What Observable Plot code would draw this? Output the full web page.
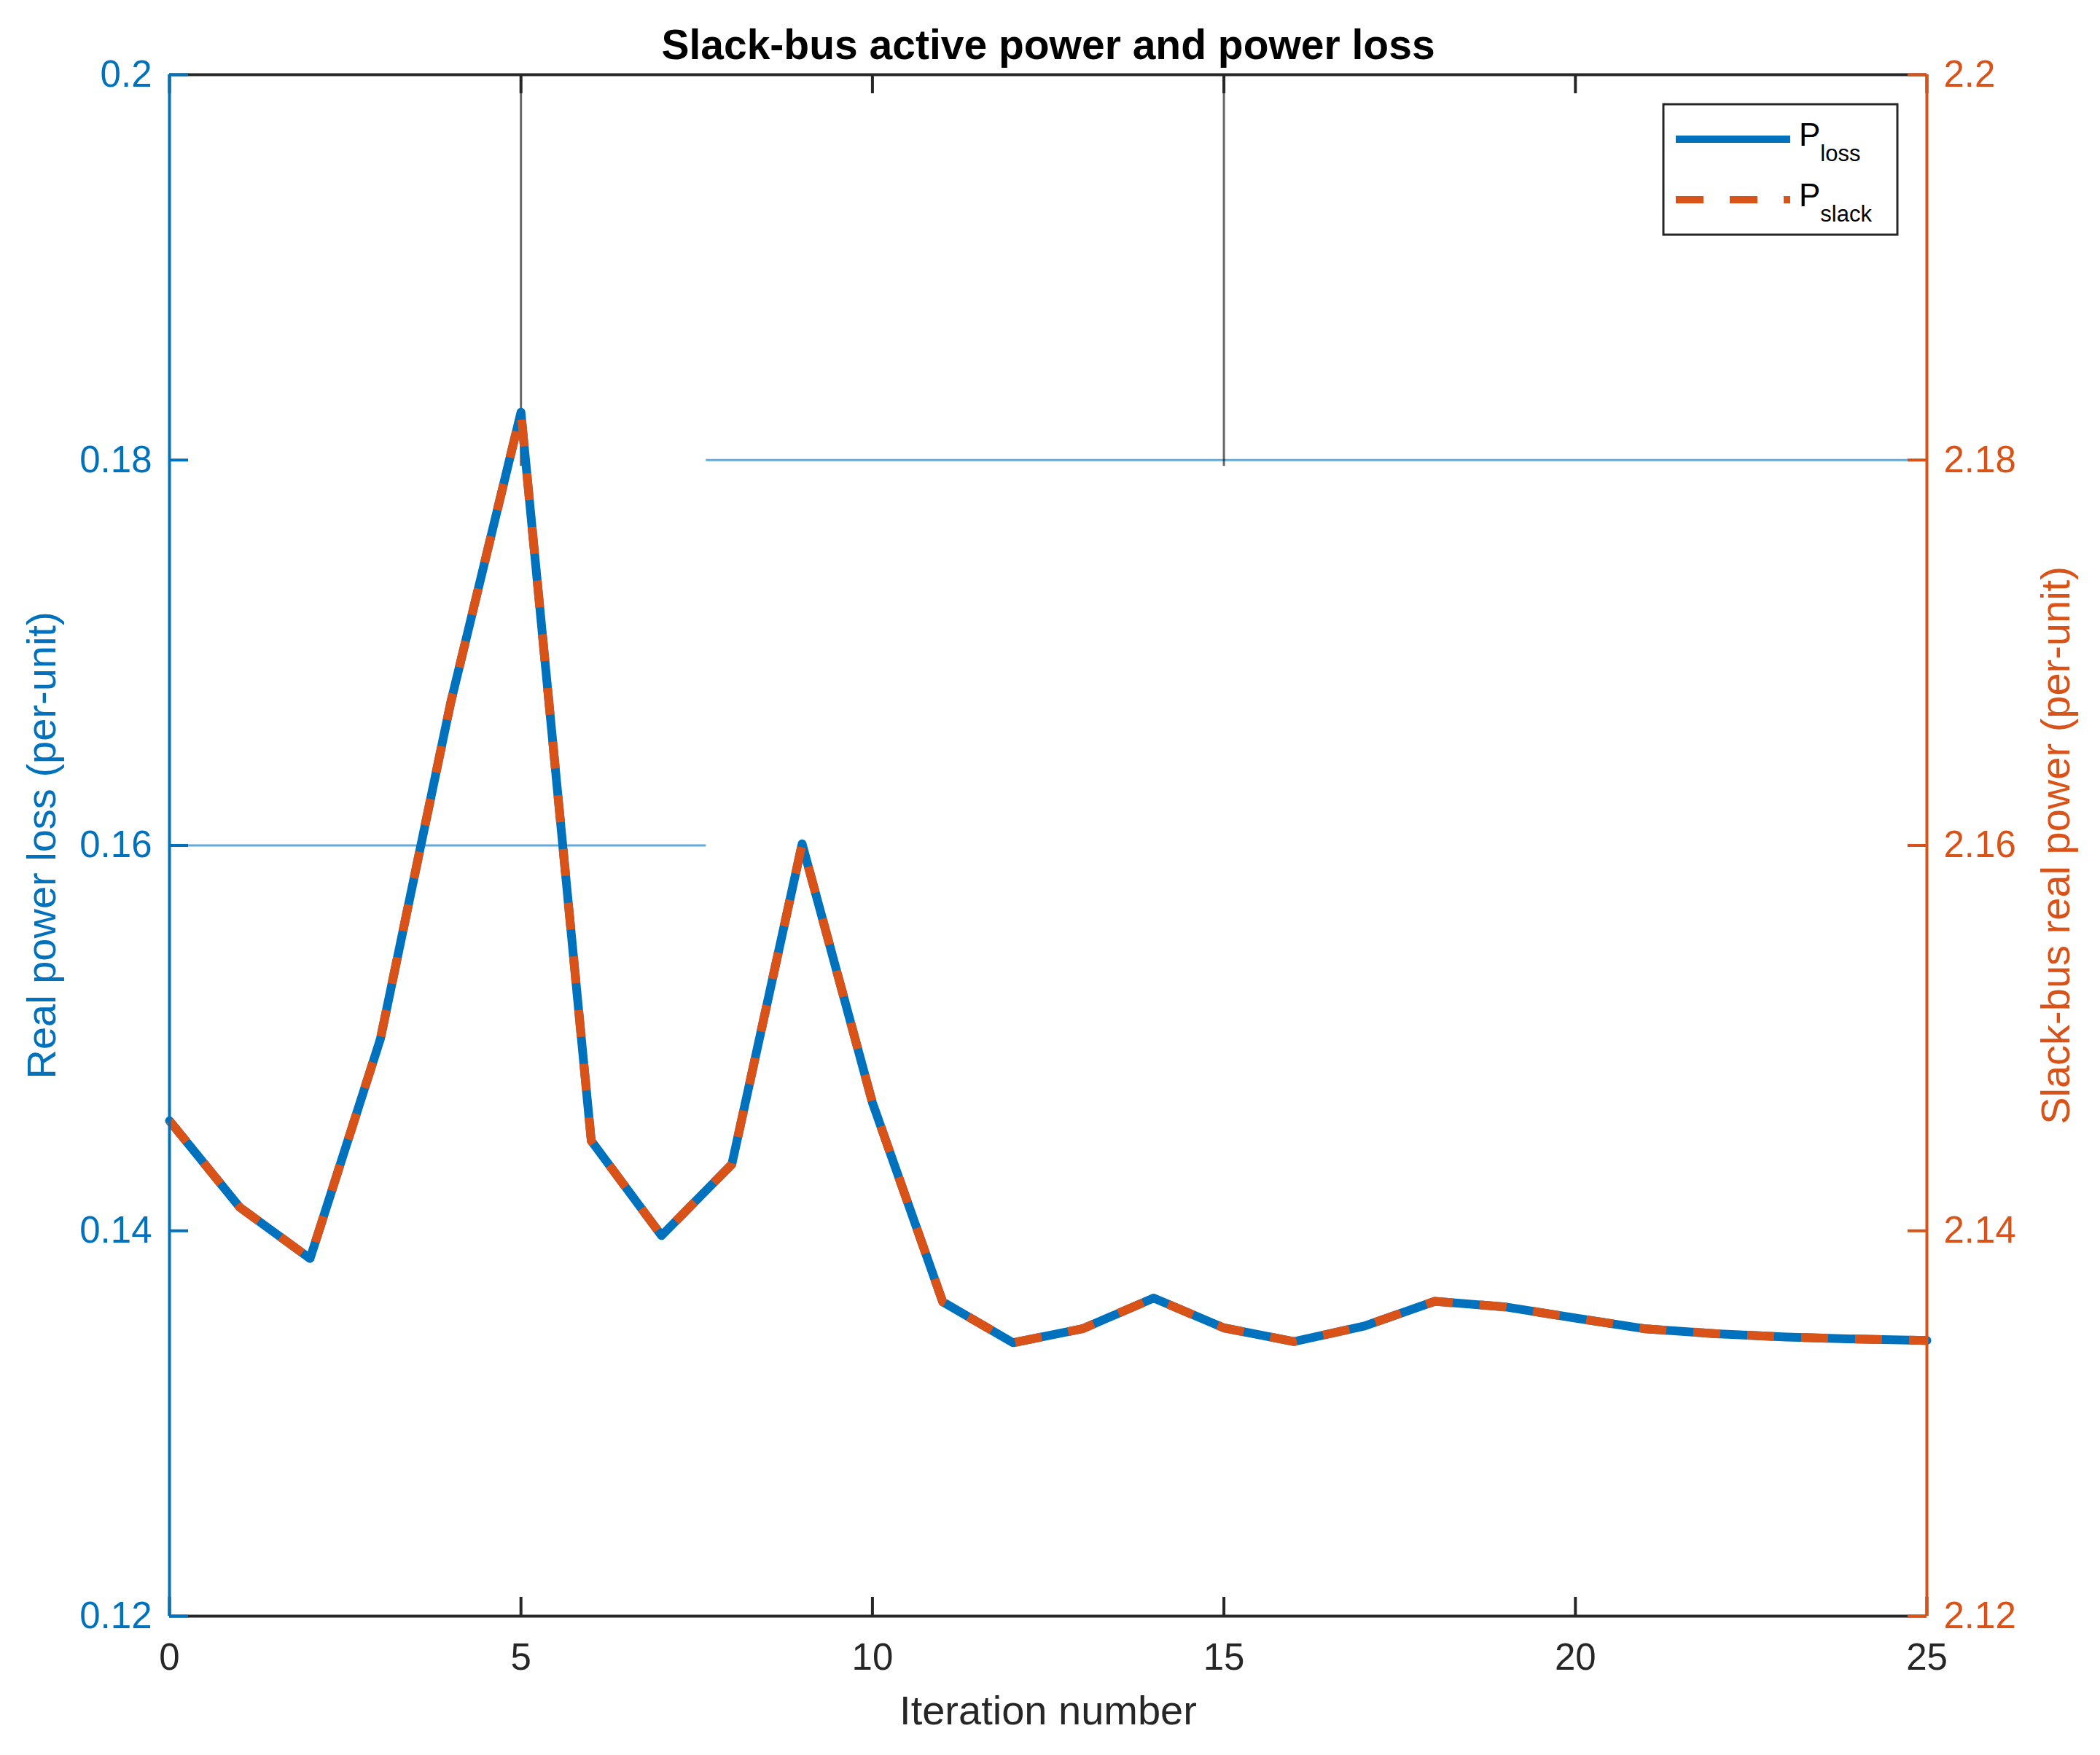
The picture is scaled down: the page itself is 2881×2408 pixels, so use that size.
<!DOCTYPE html>
<html>
<head>
<meta charset="utf-8">
<script src="https://cdn.jsdelivr.net/npm/d3@7"></script>
<script src="https://cdn.jsdelivr.net/npm/@observablehq/plot@0.6"></script>
<style>
  html, body { margin: 0; padding: 0; background: #fff; }
  #wrap { position: relative; width: 2881px; height: 2408px; }
  #legend { position: absolute; left: 0; top: 0; pointer-events: none; }
</style>
</head>
<body>
<div id="wrap"></div>
<script>
// ---- data ----
const iteration = [0,1,2,3,4,5,6,7,8,9,10,11,12,13,14,15,16,17,18,19,20,21,22,23,24,25];
const pLoss = [0.14571,0.14122,0.13856,0.14995,0.16740,0.18248,0.14467,0.13975,0.14345,0.16008,
               0.14665,0.13631,0.13419,0.13493,0.13651,0.13496,0.13425,0.13506,0.13634,0.13605,
               0.13547,0.13491,0.13466,0.13449,0.13438,0.13431];
const pSlack = [2.14571,2.14122,2.13856,2.14995,2.16740,2.18248,2.14467,2.13975,2.14345,2.16008,
                2.14665,2.13631,2.13419,2.13493,2.13651,2.13496,2.13425,2.13506,2.13634,2.13605,
                2.13547,2.13491,2.13466,2.13449,2.13438,2.13431];
const xTicks = [0,5,10,15,20,25];
const xTickLabels = ["0","5","10","15","20","25"];
const leftTicks = [0.12,0.14,0.16,0.18,0.2];
const leftTickLabels = ["0.12","0.14","0.16","0.18","0.2"];
const rightTicks = [2.12,2.14,2.16,2.18,2.2];
const rightTickLabels = ["2.12","2.14","2.16","2.18","2.2"];
const leftDomain = [0.12, 0.2];
const rightDomain = [2.12, 2.2];
const xDomain = [0, 25];
// thin guide segments visible in the figure
const hGuides = [{x1: 0, x2: 7.63, y: 0.16}, {x1: 7.63, x2: 25, y: 0.18}];
const vGuides = [{x: 5, y1: 0.2, y2: 0.1797}, {x: 15, y1: 0.2, y2: 0.1797}];

const title = "Slack-bus active power and power loss";
const xLabel = "Iteration number";
const yLabelLeft = "Real power loss (per-unit)";
const yLabelRight = "Slack-bus real power (per-unit)";

// ---- style ----
const BLUE = "#0072BD", ORANGE = "#D95319", DARK = "#262626";
const FONT = "'Liberation Sans', Arial, Helvetica, sans-serif";
const W = 2881, H = 2408;
const mL = 232, mR = 238, mT = 102, mB = 191;
const plotW = W - mL - mR, plotH = H - mT - mB;
const TICK = 26;

const rows = iteration.map((it, i) => ({it, loss: pLoss[i], slack: pSlack[i]}));
const toLeft = d3.scaleLinear().domain(rightDomain).range(leftDomain);

const chart = Plot.plot({
  width: W, height: H,
  marginLeft: mL, marginRight: mR, marginTop: mT, marginBottom: mB,
  style: {background: "white", fontFamily: FONT, overflow: "visible"},
  x: {domain: xDomain, axis: null},
  y: {domain: leftDomain, axis: null},
  marks: [
    // guide segments
    Plot.link(hGuides, {x1: "x1", x2: "x2", y1: "y", y2: "y", stroke: BLUE, strokeWidth: 3, strokeOpacity: 0.6}),
    Plot.link(vGuides, {x1: "x", x2: "x", y1: "y1", y2: "y2", stroke: "#000", strokeWidth: 3, strokeOpacity: 0.6}),
    // data
    Plot.line(rows, {x: "it", y: "loss", stroke: BLUE, strokeWidth: 12, strokeLinejoin: "round"}),
    Plot.line(rows, {x: "it", y: d => toLeft(d.slack), stroke: ORANGE, strokeWidth: 12,
                     strokeDasharray: "37,37", strokeLinecap: "butt", strokeLinejoin: "round"}),
    // box
    Plot.ruleY([leftDomain[0], leftDomain[1]], {stroke: DARK, strokeWidth: 4}),
    // x ticks (bottom and top, inward)
    Plot.tickX(xTicks, {x: d => d, stroke: DARK, strokeWidth: 4, insetTop: plotH - TICK}),
    Plot.tickX(xTicks, {x: d => d, stroke: DARK, strokeWidth: 4, insetBottom: plotH - TICK}),
    // side axes
    Plot.ruleX([xDomain[0]], {stroke: BLUE, strokeWidth: 4}),
    Plot.ruleX([xDomain[1]], {stroke: ORANGE, strokeWidth: 4}),
    Plot.tickY(leftTicks, {y: d => d, stroke: BLUE, strokeWidth: 4, insetRight: plotW - TICK}),
    Plot.tickY(rightTicks, {y: d => toLeft(d), stroke: ORANGE, strokeWidth: 4, insetLeft: plotW - TICK}),
    // tick labels
    Plot.text(xTicks, {x: d => d, text: (d, i) => xTickLabels[i], frameAnchor: "bottom", dy: 73,
                       lineAnchor: "bottom", fontSize: 51, fill: DARK}),
    Plot.text(leftTicks, {y: d => d, text: (d, i) => leftTickLabels[i], frameAnchor: "left", dx: -24,
                          textAnchor: "end", lineAnchor: "middle", fontSize: 51, fill: BLUE}),
    Plot.text(rightTicks, {y: d => toLeft(d), text: (d, i) => rightTickLabels[i], frameAnchor: "right", dx: 23,
                           textAnchor: "start", lineAnchor: "middle", fontSize: 51, fill: ORANGE}),
    // titles
    Plot.text([title], {text: d => d, frameAnchor: "top", dy: -22, lineAnchor: "bottom",
                        fontSize: 57, fontWeight: "bold", fill: "#000"}),
    Plot.text([xLabel], {text: d => d, frameAnchor: "bottom", dy: 148, lineAnchor: "bottom",
                         fontSize: 56, fill: DARK}),
    Plot.text([yLabelLeft], {text: d => d, frameAnchor: "left", dx: 75 - mL, rotate: -90,
                             textAnchor: "middle", lineAnchor: "bottom", fontSize: 56, fill: BLUE}),
    Plot.text([yLabelRight], {text: d => d, frameAnchor: "right", dx: 2838 - (W - mR), rotate: -90,
                              textAnchor: "middle", lineAnchor: "bottom", fontSize: 56, fill: ORANGE})
  ]
});

const wrap = document.getElementById("wrap");
wrap.appendChild(chart);

// ---- legend overlay ----
const lg = d3.select(wrap).append("svg").attr("id", "legend")
  .attr("width", W).attr("height", H).style("font-family", FONT);
lg.append("rect").attr("x", 2282).attr("y", 143).attr("width", 321).attr("height", 179)
  .attr("fill", "white").attr("stroke", DARK).attr("stroke-width", 3);
const items = [
  {main: "P", sub: "loss", color: BLUE, dash: null, y: 191},
  {main: "P", sub: "slack", color: ORANGE, dash: "38,36", y: 274}
];
items.forEach(it => {
  const ln = lg.append("line").attr("x1", 2299).attr("x2", 2456).attr("y1", it.y).attr("y2", it.y)
    .attr("stroke", it.color).attr("stroke-width", 10);
  if (it.dash) ln.attr("stroke-dasharray", it.dash);
  const t = lg.append("text").attr("x", 2468).attr("y", it.y + 9).attr("fill", "#000").attr("font-size", 44);
  t.append("tspan").text(it.main);
  t.append("tspan").attr("dy", 21).attr("font-size", 31).text(it.sub);
});
</script>
</body>
</html>
